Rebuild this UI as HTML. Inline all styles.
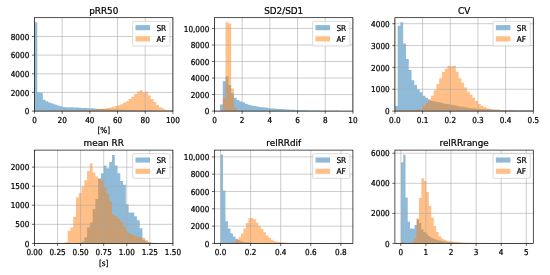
<!DOCTYPE html>
<html lang="en">
<head>
<meta charset="utf-8">
<title>HRV feature histograms: SR vs AF</title>
<style>
html,body{margin:0;padding:0;background:#fff;}
body{width:550px;height:275px;overflow:hidden;}
svg text{font-family:"DejaVu Sans", "Liberation Sans", sans-serif;fill:#000;stroke:#000;stroke-width:0.22px;}
</style>
</head>
<body>
<svg width="550" height="275" viewBox="0 0 550 275" style="display:block" font-family='&quot;DejaVu Sans&quot;, &quot;Liberation Sans&quot;, sans-serif'>
<rect x="0" y="0" width="550" height="275" fill="#ffffff"/>
<g>
<clipPath id="c0"><rect x="34.5" y="17.7" width="138.4" height="93.4"/></clipPath>
<path clip-path="url(#c0)" d="M34.5 111.1H37.27V22.24H34.5ZM37.27 111.1H40.04V92.54H37.27ZM40.04 111.1H42.8V92.82H40.04ZM42.8 111.1H45.57V99.68H42.8ZM45.57 111.1H48.34V101.33H45.57ZM48.34 111.1H51.11V102.47H48.34ZM51.11 111.1H53.88V103.49H51.11ZM53.88 111.1H56.64V104.5H53.88ZM56.64 111.1H59.41V105.39H56.64ZM59.41 111.1H62.18V106.16H59.41ZM62.18 111.1H64.95V106.9H62.18ZM64.95 111.1H67.72V107.14H64.95ZM67.72 111.1H70.48V107.25H67.72ZM70.48 111.1H73.25V107.35H70.48ZM73.25 111.1H76.02V107.46H73.25ZM76.02 111.1H78.79V107.56H76.02ZM78.79 111.1H81.56V107.72H78.79ZM81.56 111.1H84.32V107.88H81.56ZM84.32 111.1H87.09V108.03H84.32ZM87.09 111.1H89.86V108.17H87.09ZM89.86 111.1H92.63V108.3H89.86ZM92.63 111.1H95.4V108.5H92.63ZM95.4 111.1H98.16V108.68H95.4ZM98.16 111.1H100.93V108.88H98.16ZM100.93 111.1H103.7V109.06H100.93ZM103.7 111.1H106.47V109.23H103.7ZM106.47 111.1H109.24V109.34H106.47ZM109.24 111.1H112V109.44H109.24ZM112 111.1H114.77V109.53H112ZM114.77 111.1H117.54V109.62H114.77ZM117.54 111.1H120.31V109.7H117.54ZM120.31 111.1H123.08V109.77H120.31ZM123.08 111.1H125.84V109.84H123.08ZM125.84 111.1H128.61V109.9H125.84ZM128.61 111.1H131.38V109.96H128.61ZM131.38 111.1H134.15V110.02H131.38ZM134.15 111.1H136.92V110.07H134.15ZM136.92 111.1H139.68V110.13H136.92ZM139.68 111.1H142.45V110.18H139.68ZM142.45 111.1H145.22V110.23H142.45ZM145.22 111.1H147.99V110.28H145.22ZM147.99 111.1H150.76V110.33H147.99ZM150.76 111.1H153.52V110.37H150.76ZM153.52 111.1H156.29V110.41H153.52ZM156.29 111.1H159.06V110.45H156.29ZM159.06 111.1H161.83V110.49H159.06ZM161.83 111.1H164.6V110.52H161.83ZM164.6 111.1H167.36V110.56H164.6ZM167.36 111.1H170.13V110.59H167.36ZM170.13 111.1H172.9V109.98H170.13Z" fill="#1f77b4" fill-opacity="0.5"/>
<path clip-path="url(#c0)" d="M34.5 111.1H37.27V110.91H34.5ZM37.27 111.1H40.04V110.9H37.27ZM40.04 111.1H42.8V110.88H40.04ZM42.8 111.1H45.57V110.85H42.8ZM45.57 111.1H48.34V110.83H45.57ZM48.34 111.1H51.11V110.81H48.34ZM51.11 111.1H53.88V110.78H51.11ZM53.88 111.1H56.64V110.75H53.88ZM56.64 111.1H59.41V110.71H56.64ZM59.41 111.1H62.18V110.67H59.41ZM62.18 111.1H64.95V110.63H62.18ZM64.95 111.1H67.72V110.59H64.95ZM67.72 111.1H70.48V110.53H67.72ZM70.48 111.1H73.25V110.47H70.48ZM73.25 111.1H76.02V110.41H73.25ZM76.02 111.1H78.79V110.34H76.02ZM78.79 111.1H81.56V110.26H78.79ZM81.56 111.1H84.32V110.17H81.56ZM84.32 111.1H87.09V110.07H84.32ZM87.09 111.1H89.86V109.9H87.09ZM89.86 111.1H92.63V109.7H89.86ZM92.63 111.1H95.4V109.48H92.63ZM95.4 111.1H98.16V109.23H95.4ZM98.16 111.1H100.93V108.97H98.16ZM100.93 111.1H103.7V108.68H100.93ZM103.7 111.1H106.47V108.4H103.7ZM106.47 111.1H109.24V107.98H106.47ZM109.24 111.1H112V107.42H109.24ZM112 111.1H114.77V106.76H112ZM114.77 111.1H117.54V106.06H114.77ZM117.54 111.1H120.31V105.23H117.54ZM120.31 111.1H123.08V104.2H120.31ZM123.08 111.1H125.84V102.71H123.08ZM125.84 111.1H128.61V101.26H125.84ZM128.61 111.1H131.38V99.07H128.61ZM131.38 111.1H134.15V96.85H131.38ZM134.15 111.1H136.92V93.91H134.15ZM136.92 111.1H139.68V91.42H136.92ZM139.68 111.1H142.45V90.25H139.68ZM142.45 111.1H145.22V92.45H142.45ZM145.22 111.1H147.99V91.71H145.22ZM147.99 111.1H150.76V95.39H147.99ZM150.76 111.1H153.52V99.07H150.76ZM153.52 111.1H156.29V102H153.52ZM156.29 111.1H159.06V104.95H156.29ZM159.06 111.1H161.83V107.14H159.06ZM161.83 111.1H164.6V108.6H161.83ZM164.6 111.1H167.36V109.64H164.6ZM167.36 111.1H170.13V110.21H167.36ZM170.13 111.1H172.9V110.54H170.13Z" fill="#ff7f0e" fill-opacity="0.5"/>
<path d="M34.5 17.7V111.1M62.18 17.7V111.1M89.86 17.7V111.1M117.54 17.7V111.1M145.22 17.7V111.1M172.9 17.7V111.1M34.5 111.1H172.9M34.5 92.45H172.9M34.5 73.8H172.9M34.5 55.15H172.9M34.5 36.5H172.9" stroke="#a8a8a8" stroke-width="0.58" fill="none"/>
<path d="M34.5 111.1v2.6M62.18 111.1v2.6M89.86 111.1v2.6M117.54 111.1v2.6M145.22 111.1v2.6M172.9 111.1v2.6M34.5 111.1h-2.6M34.5 92.45h-2.6M34.5 73.8h-2.6M34.5 55.15h-2.6M34.5 36.5h-2.6" stroke="#000" stroke-width="0.6" fill="none"/>
<rect x="34.5" y="17.7" width="138.4" height="93.4" fill="none" stroke="#000" stroke-width="0.68"/>
<text transform="translate(34.5 122.8) scale(1 1.12)" font-size="7.3" text-anchor="middle">0</text>
<text transform="translate(62.18 122.8) scale(1 1.12)" font-size="7.3" text-anchor="middle">20</text>
<text transform="translate(89.86 122.8) scale(1 1.12)" font-size="7.3" text-anchor="middle">40</text>
<text transform="translate(117.54 122.8) scale(1 1.12)" font-size="7.3" text-anchor="middle">60</text>
<text transform="translate(145.22 122.8) scale(1 1.12)" font-size="7.3" text-anchor="middle">80</text>
<text transform="translate(172.9 122.8) scale(1 1.12)" font-size="7.3" text-anchor="middle">100</text>
<text transform="translate(29.3 114.2) scale(1 1.12)" font-size="7.3" text-anchor="end">0</text>
<text transform="translate(29.3 95.55) scale(1 1.12)" font-size="7.3" text-anchor="end">2000</text>
<text transform="translate(29.3 76.9) scale(1 1.12)" font-size="7.3" text-anchor="end">4000</text>
<text transform="translate(29.3 58.25) scale(1 1.12)" font-size="7.3" text-anchor="end">6000</text>
<text transform="translate(29.3 39.6) scale(1 1.12)" font-size="7.3" text-anchor="end">8000</text>
<text transform="translate(103.7 133.3) scale(1 1.12)" font-size="7.3" text-anchor="middle">[%]</text>
<text transform="translate(103.7 13.7) scale(1 1.04)" font-size="8.85" text-anchor="middle">pRR50</text>
<rect x="132.6" y="21.3" width="37.3" height="24.7" rx="1.4" ry="1.4" fill="#fff" fill-opacity="0.8" stroke="#c8c8c8" stroke-opacity="0.9" stroke-width="0.7"/>
<rect x="135.5" y="25.1" width="14.5" height="5.1" fill="#1f77b4" fill-opacity="0.5"/>
<text transform="translate(156.4 30.5) scale(1 1.08)" font-size="7.3999999999999995">SR</text>
<rect x="135.5" y="36.3" width="14.5" height="5.1" fill="#ff7f0e" fill-opacity="0.5"/>
<text transform="translate(156.4 41.7) scale(1 1.08)" font-size="7.3999999999999995">AF</text>
</g>
<g>
<clipPath id="c1"><rect x="214.5" y="17.7" width="138.4" height="93.4"/></clipPath>
<path clip-path="url(#c1)" d="M220.04 111.1H222.8V104.49H220.04ZM222.8 111.1H225.57V81.26H222.8ZM225.57 111.1H228.34V76.3H225.57ZM228.34 111.1H231.11V84.9H228.34ZM231.11 111.1H233.88V93.33H231.11ZM233.88 111.1H236.64V97.71H233.88ZM236.64 111.1H239.41V99.94H236.64ZM239.41 111.1H242.18V101.43H239.41ZM242.18 111.1H244.95V102.34H242.18ZM244.95 111.1H247.72V103.79H244.95ZM247.72 111.1H250.48V104.69H247.72ZM250.48 111.1H253.25V105.44H250.48ZM253.25 111.1H256.02V106.06H253.25ZM256.02 111.1H258.79V106.5H256.02ZM258.79 111.1H261.56V106.91H258.79ZM261.56 111.1H264.32V107.28H261.56ZM264.32 111.1H267.09V107.62H264.32ZM267.09 111.1H269.86V107.93H267.09ZM269.86 111.1H272.63V108.21H269.86ZM272.63 111.1H275.4V108.46H272.63ZM275.4 111.1H278.16V108.7H275.4ZM278.16 111.1H280.93V108.91H278.16ZM280.93 111.1H283.7V109.1H280.93ZM283.7 111.1H286.47V109.28H283.7ZM286.47 111.1H289.24V109.46H286.47ZM289.24 111.1H292V109.63H289.24ZM292 111.1H294.77V109.77H292ZM294.77 111.1H297.54V109.91H294.77ZM297.54 111.1H300.31V110.03H297.54ZM300.31 111.1H303.08V110.13H300.31ZM303.08 111.1H305.84V110.23H303.08ZM305.84 111.1H308.61V110.31H305.84ZM308.61 111.1H311.38V110.39H308.61ZM311.38 111.1H314.15V110.46H311.38ZM314.15 111.1H316.92V110.52H314.15ZM316.92 111.1H319.68V110.58H316.92ZM319.68 111.1H322.45V110.64H319.68ZM322.45 111.1H325.22V110.69H322.45ZM325.22 111.1H327.99V110.74H325.22ZM327.99 111.1H330.76V110.78H327.99ZM330.76 111.1H333.52V110.81H330.76ZM333.52 111.1H336.29V110.84H333.52ZM336.29 111.1H339.06V110.87H336.29ZM339.06 111.1H341.83V110.9H339.06ZM341.83 111.1H344.6V110.92H341.83ZM344.6 111.1H347.36V110.94H344.6ZM347.36 111.1H350.13V110.96H347.36ZM350.13 111.1H352.9V110.98H350.13Z" fill="#1f77b4" fill-opacity="0.5"/>
<path clip-path="url(#c1)" d="M222.8 111.1H225.57V97.71H222.8ZM225.57 111.1H228.34V22.14H225.57ZM228.34 111.1H231.11V23.54H228.34ZM231.11 111.1H233.88V88.56H231.11ZM233.88 111.1H236.64V107.79H233.88ZM236.64 111.1H239.41V110.6H236.64ZM239.41 111.1H242.18V110.98H239.41Z" fill="#ff7f0e" fill-opacity="0.5"/>
<path d="M214.5 17.7V111.1M242.18 17.7V111.1M269.86 17.7V111.1M297.54 17.7V111.1M325.22 17.7V111.1M352.9 17.7V111.1M214.5 111.1H352.9M214.5 94.57H352.9M214.5 78.04H352.9M214.5 61.51H352.9M214.5 44.98H352.9M214.5 28.45H352.9" stroke="#a8a8a8" stroke-width="0.58" fill="none"/>
<path d="M214.5 111.1v2.6M242.18 111.1v2.6M269.86 111.1v2.6M297.54 111.1v2.6M325.22 111.1v2.6M352.9 111.1v2.6M214.5 111.1h-2.6M214.5 94.57h-2.6M214.5 78.04h-2.6M214.5 61.51h-2.6M214.5 44.98h-2.6M214.5 28.45h-2.6" stroke="#000" stroke-width="0.6" fill="none"/>
<rect x="214.5" y="17.7" width="138.4" height="93.4" fill="none" stroke="#000" stroke-width="0.68"/>
<text transform="translate(214.5 122.8) scale(1 1.12)" font-size="7.3" text-anchor="middle">0</text>
<text transform="translate(242.18 122.8) scale(1 1.12)" font-size="7.3" text-anchor="middle">2</text>
<text transform="translate(269.86 122.8) scale(1 1.12)" font-size="7.3" text-anchor="middle">4</text>
<text transform="translate(297.54 122.8) scale(1 1.12)" font-size="7.3" text-anchor="middle">6</text>
<text transform="translate(325.22 122.8) scale(1 1.12)" font-size="7.3" text-anchor="middle">8</text>
<text transform="translate(352.9 122.8) scale(1 1.12)" font-size="7.3" text-anchor="middle">10</text>
<text transform="translate(209.3 114.2) scale(1 1.12)" font-size="7.3" text-anchor="end">0</text>
<text transform="translate(209.3 97.67) scale(1 1.12)" font-size="7.3" text-anchor="end">2000</text>
<text transform="translate(209.3 81.14) scale(1 1.12)" font-size="7.3" text-anchor="end">4000</text>
<text transform="translate(209.3 64.61) scale(1 1.12)" font-size="7.3" text-anchor="end">6000</text>
<text transform="translate(209.3 48.08) scale(1 1.12)" font-size="7.3" text-anchor="end">8000</text>
<text transform="translate(209.3 31.55) scale(1 1.12)" font-size="7.3" text-anchor="end">10,000</text>
<text transform="translate(283.7 13.7) scale(1 1.04)" font-size="8.85" text-anchor="middle">SD2/SD1</text>
<rect x="312.6" y="21.3" width="37.3" height="24.7" rx="1.4" ry="1.4" fill="#fff" fill-opacity="0.8" stroke="#c8c8c8" stroke-opacity="0.9" stroke-width="0.7"/>
<rect x="315.5" y="25.1" width="14.5" height="5.1" fill="#1f77b4" fill-opacity="0.5"/>
<text transform="translate(336.4 30.5) scale(1 1.08)" font-size="7.3999999999999995">SR</text>
<rect x="315.5" y="36.3" width="14.5" height="5.1" fill="#ff7f0e" fill-opacity="0.5"/>
<text transform="translate(336.4 41.7) scale(1 1.08)" font-size="7.3999999999999995">AF</text>
</g>
<g>
<clipPath id="c2"><rect x="394.9" y="17.7" width="138.4" height="93.4"/></clipPath>
<path clip-path="url(#c2)" d="M394.9 111.1H397.67V105.97H394.9ZM397.67 111.1H400.44V25.82H397.67ZM400.44 111.1H403.2V22.17H400.44ZM403.2 111.1H405.97V43.58H403.2ZM405.97 111.1H408.74V59.1H405.97ZM408.74 111.1H411.51V70.09H408.74ZM411.51 111.1H414.28V80.2H411.51ZM414.28 111.1H417.04V84.88H414.28ZM417.04 111.1H419.81V89.4H417.04ZM419.81 111.1H422.58V92.16H419.81ZM422.58 111.1H425.35V95.8H422.58ZM425.35 111.1H428.12V97.66H425.35ZM428.12 111.1H430.88V99.52H428.12ZM430.88 111.1H433.65V101.05H430.88ZM433.65 111.1H436.42V101.59H433.65ZM436.42 111.1H439.19V102.1H436.42ZM439.19 111.1H441.96V102.58H439.19ZM441.96 111.1H444.72V103.16H441.96ZM444.72 111.1H447.49V103.71H444.72ZM447.49 111.1H450.26V104.22H447.49ZM450.26 111.1H453.03V104.81H450.26ZM453.03 111.1H455.8V105.36H453.03ZM455.8 111.1H458.56V105.86H455.8ZM458.56 111.1H461.33V106.38H458.56ZM461.33 111.1H464.1V106.85H461.33ZM464.1 111.1H466.87V107.28H464.1ZM466.87 111.1H469.64V107.73H466.87ZM469.64 111.1H472.4V108.13H469.64ZM472.4 111.1H475.17V108.48H472.4ZM475.17 111.1H477.94V108.74H475.17ZM477.94 111.1H480.71V108.97H477.94ZM480.71 111.1H483.48V109.18H480.71ZM483.48 111.1H486.24V109.31H483.48ZM486.24 111.1H489.01V109.43H486.24ZM489.01 111.1H491.78V109.54H489.01ZM491.78 111.1H494.55V109.65H491.78ZM494.55 111.1H497.32V109.75H494.55ZM497.32 111.1H500.08V109.82H497.32ZM500.08 111.1H502.85V109.88H500.08ZM502.85 111.1H505.62V109.95H502.85ZM505.62 111.1H508.39V110.01H505.62ZM508.39 111.1H511.16V110.06H508.39ZM511.16 111.1H513.92V110.12H511.16ZM513.92 111.1H516.69V110.15H513.92ZM516.69 111.1H519.46V110.18H516.69ZM519.46 111.1H522.23V110.22H519.46ZM522.23 111.1H525V110.25H522.23ZM525 111.1H527.76V110.28H525ZM527.76 111.1H530.53V110.31H527.76ZM530.53 111.1H533.3V110.34H530.53Z" fill="#1f77b4" fill-opacity="0.5"/>
<path clip-path="url(#c2)" d="M394.9 111.1H397.67V110.55H394.9ZM397.67 111.1H400.44V110.34H397.67ZM400.44 111.1H403.2V110.23H400.44ZM403.2 111.1H405.97V110.12H403.2ZM405.97 111.1H408.74V110.01H405.97ZM408.74 111.1H411.51V109.96H408.74ZM411.51 111.1H414.28V109.9H411.51ZM414.28 111.1H417.04V109.79H414.28ZM417.04 111.1H419.81V109.61H417.04ZM419.81 111.1H422.58V109.24H419.81ZM422.58 111.1H425.35V105.97H422.58ZM425.35 111.1H428.12V103.23H425.35ZM428.12 111.1H430.88V100.39H428.12ZM430.88 111.1H433.65V95.8H430.88ZM433.65 111.1H436.42V90.34H433.65ZM436.42 111.1H439.19V83.9H436.42ZM439.19 111.1H441.96V78.32H439.19ZM441.96 111.1H444.72V71.99H441.96ZM444.72 111.1H447.49V68.8H444.72ZM447.49 111.1H450.26V65.87H447.49ZM450.26 111.1H453.03V66.42H450.26ZM453.03 111.1H455.8V65.87H453.03ZM455.8 111.1H458.56V71.77H455.8ZM458.56 111.1H461.33V78.32H458.56ZM461.33 111.1H464.1V82.69H461.33ZM464.1 111.1H466.87V87.5H464.1ZM466.87 111.1H469.64V91.43H466.87ZM469.64 111.1H472.4V94.49H469.64ZM472.4 111.1H475.17V97.77H472.4ZM475.17 111.1H477.94V101.05H475.17ZM477.94 111.1H480.71V103.89H477.94ZM480.71 111.1H483.48V105.64H480.71ZM483.48 111.1H486.24V107.17H483.48ZM486.24 111.1H489.01V108.26H486.24ZM489.01 111.1H491.78V109.02H489.01ZM491.78 111.1H494.55V109.46H491.78ZM494.55 111.1H497.32V109.67H494.55ZM497.32 111.1H500.08V109.85H497.32ZM500.08 111.1H502.85V110.01H500.08ZM502.85 111.1H505.62V110.12H502.85ZM505.62 111.1H508.39V110.23H505.62ZM508.39 111.1H511.16V110.32H508.39ZM511.16 111.1H513.92V110.4H511.16ZM513.92 111.1H516.69V110.46H513.92ZM516.69 111.1H519.46V110.52H516.69ZM519.46 111.1H522.23V110.57H519.46ZM522.23 111.1H525V110.62H522.23ZM525 111.1H527.76V110.67H525ZM527.76 111.1H530.53V110.71H527.76ZM530.53 111.1H533.3V110.75H530.53Z" fill="#ff7f0e" fill-opacity="0.5"/>
<path d="M394.9 17.7V111.1M422.58 17.7V111.1M450.26 17.7V111.1M477.94 17.7V111.1M505.62 17.7V111.1M533.3 17.7V111.1M394.9 111.1H533.3M394.9 89.25H533.3M394.9 67.4H533.3M394.9 45.55H533.3M394.9 23.7H533.3" stroke="#a8a8a8" stroke-width="0.58" fill="none"/>
<path d="M394.9 111.1v2.6M422.58 111.1v2.6M450.26 111.1v2.6M477.94 111.1v2.6M505.62 111.1v2.6M533.3 111.1v2.6M394.9 111.1h-2.6M394.9 89.25h-2.6M394.9 67.4h-2.6M394.9 45.55h-2.6M394.9 23.7h-2.6" stroke="#000" stroke-width="0.6" fill="none"/>
<rect x="394.9" y="17.7" width="138.4" height="93.4" fill="none" stroke="#000" stroke-width="0.68"/>
<text transform="translate(394.9 122.8) scale(1 1.12)" font-size="7.3" text-anchor="middle">0.0</text>
<text transform="translate(422.58 122.8) scale(1 1.12)" font-size="7.3" text-anchor="middle">0.1</text>
<text transform="translate(450.26 122.8) scale(1 1.12)" font-size="7.3" text-anchor="middle">0.2</text>
<text transform="translate(477.94 122.8) scale(1 1.12)" font-size="7.3" text-anchor="middle">0.3</text>
<text transform="translate(505.62 122.8) scale(1 1.12)" font-size="7.3" text-anchor="middle">0.4</text>
<text transform="translate(533.3 122.8) scale(1 1.12)" font-size="7.3" text-anchor="middle">0.5</text>
<text transform="translate(389.7 114.2) scale(1 1.12)" font-size="7.3" text-anchor="end">0</text>
<text transform="translate(389.7 92.35) scale(1 1.12)" font-size="7.3" text-anchor="end">1000</text>
<text transform="translate(389.7 70.5) scale(1 1.12)" font-size="7.3" text-anchor="end">2000</text>
<text transform="translate(389.7 48.65) scale(1 1.12)" font-size="7.3" text-anchor="end">3000</text>
<text transform="translate(389.7 26.8) scale(1 1.12)" font-size="7.3" text-anchor="end">4000</text>
<text transform="translate(464.1 13.7) scale(1 1.04)" font-size="8.85" text-anchor="middle">CV</text>
<rect x="493" y="21.3" width="37.3" height="24.7" rx="1.4" ry="1.4" fill="#fff" fill-opacity="0.8" stroke="#c8c8c8" stroke-opacity="0.9" stroke-width="0.7"/>
<rect x="495.9" y="25.1" width="14.5" height="5.1" fill="#1f77b4" fill-opacity="0.5"/>
<text transform="translate(516.8 30.5) scale(1 1.08)" font-size="7.3999999999999995">SR</text>
<rect x="495.9" y="36.3" width="14.5" height="5.1" fill="#ff7f0e" fill-opacity="0.5"/>
<text transform="translate(516.8 41.7) scale(1 1.08)" font-size="7.3999999999999995">AF</text>
</g>
<g>
<clipPath id="c3"><rect x="34.5" y="150.1" width="138.4" height="93.3"/></clipPath>
<path clip-path="url(#c3)" d="M76.02 243.4H78.79V243.09H76.02ZM78.79 243.4H81.56V242.64H78.79ZM81.56 243.4H84.32V241.49H81.56ZM84.32 243.4H87.09V237.41H84.32ZM87.09 243.4H89.86V227.61H87.09ZM89.86 243.4H92.63V222.5H89.86ZM92.63 243.4H95.4V208.88H92.63ZM95.4 243.4H98.16V198.89H95.4ZM98.16 243.4H100.93V178.56H98.16ZM100.93 243.4H103.7V173.3H100.93ZM103.7 243.4H106.47V165.48H103.7ZM106.47 243.4H109.24V168.19H106.47ZM109.24 243.4H112V161.97H109.24ZM112 243.4H114.77V155.11H112ZM114.77 243.4H117.54V165.48H114.77ZM117.54 243.4H120.31V173.3H117.54ZM120.31 243.4H123.08V181.12H120.31ZM123.08 243.4H125.84V184.74H123.08ZM125.84 243.4H128.61V204.19H125.84ZM128.61 243.4H131.38V212.39H128.61ZM131.38 243.4H134.15V212.39H131.38ZM134.15 243.4H136.92V216.32H134.15ZM136.92 243.4H139.68V220.17H136.92ZM139.68 243.4H142.45V228.33H139.68ZM142.45 243.4H145.22V239.78H142.45ZM145.22 243.4H147.99V241.49H145.22ZM147.99 243.4H150.76V242.45H147.99ZM150.76 243.4H153.52V242.94H150.76ZM153.52 243.4H156.29V243.17H153.52ZM156.29 243.4H159.06V243.29H156.29Z" fill="#1f77b4" fill-opacity="0.5"/>
<path clip-path="url(#c3)" d="M62.18 243.4H64.95V243.09H62.18ZM64.95 243.4H67.72V242.14H64.95ZM67.72 243.4H70.48V230.7H67.72ZM70.48 243.4H73.25V227.61H70.48ZM73.25 243.4H76.02V216.7H73.25ZM76.02 243.4H78.79V197.44H76.02ZM78.79 243.4H81.56V192.9H78.79ZM81.56 243.4H84.32V186.57H81.56ZM84.32 243.4H87.09V180.2H84.32ZM87.09 243.4H89.86V170.93H87.09ZM89.86 243.4H92.63V163.31H89.86ZM92.63 243.4H95.4V172.57H92.63ZM95.4 243.4H98.16V176.39H95.4ZM98.16 243.4H100.93V179.1H98.16ZM100.93 243.4H103.7V180.85H100.93ZM103.7 243.4H106.47V187.52H103.7ZM106.47 243.4H109.24V193.82H106.47ZM109.24 243.4H112V201.45H109.24ZM112 243.4H114.77V214.8H112ZM114.77 243.4H117.54V216.13H114.77ZM117.54 243.4H120.31V218.99H117.54ZM120.31 243.4H123.08V221.81H120.31ZM123.08 243.4H125.84V226.16H123.08ZM125.84 243.4H128.61V231.61H125.84ZM128.61 243.4H131.38V233.25H128.61ZM131.38 243.4H134.15V234.89H131.38ZM134.15 243.4H136.92V235.96H134.15ZM136.92 243.4H139.68V236.84H136.92ZM139.68 243.4H142.45V237.6H139.68ZM142.45 243.4H145.22V237.68H142.45ZM145.22 243.4H147.99V240.35H145.22ZM147.99 243.4H150.76V241.99H147.99ZM150.76 243.4H153.52V242.64H150.76ZM153.52 243.4H156.29V242.94H153.52ZM156.29 243.4H159.06V243.13H156.29ZM159.06 243.4H161.83V243.25H159.06Z" fill="#ff7f0e" fill-opacity="0.5"/>
<path d="M34.5 150.1V243.4M57.57 150.1V243.4M80.63 150.1V243.4M103.7 150.1V243.4M126.77 150.1V243.4M149.83 150.1V243.4M172.9 150.1V243.4M34.5 243.4H172.9M34.5 224.33H172.9M34.5 205.26H172.9M34.5 186.19H172.9M34.5 167.12H172.9" stroke="#a8a8a8" stroke-width="0.58" fill="none"/>
<path d="M34.5 243.4v2.6M57.57 243.4v2.6M80.63 243.4v2.6M103.7 243.4v2.6M126.77 243.4v2.6M149.83 243.4v2.6M172.9 243.4v2.6M34.5 243.4h-2.6M34.5 224.33h-2.6M34.5 205.26h-2.6M34.5 186.19h-2.6M34.5 167.12h-2.6" stroke="#000" stroke-width="0.6" fill="none"/>
<rect x="34.5" y="150.1" width="138.4" height="93.3" fill="none" stroke="#000" stroke-width="0.68"/>
<text transform="translate(34.5 255.1) scale(1 1.12)" font-size="7.3" text-anchor="middle">0.00</text>
<text transform="translate(57.57 255.1) scale(1 1.12)" font-size="7.3" text-anchor="middle">0.25</text>
<text transform="translate(80.63 255.1) scale(1 1.12)" font-size="7.3" text-anchor="middle">0.50</text>
<text transform="translate(103.7 255.1) scale(1 1.12)" font-size="7.3" text-anchor="middle">0.75</text>
<text transform="translate(126.77 255.1) scale(1 1.12)" font-size="7.3" text-anchor="middle">1.00</text>
<text transform="translate(149.83 255.1) scale(1 1.12)" font-size="7.3" text-anchor="middle">1.25</text>
<text transform="translate(172.9 255.1) scale(1 1.12)" font-size="7.3" text-anchor="middle">1.50</text>
<text transform="translate(29.3 246.5) scale(1 1.12)" font-size="7.3" text-anchor="end">0</text>
<text transform="translate(29.3 227.43) scale(1 1.12)" font-size="7.3" text-anchor="end">500</text>
<text transform="translate(29.3 208.36) scale(1 1.12)" font-size="7.3" text-anchor="end">1000</text>
<text transform="translate(29.3 189.29) scale(1 1.12)" font-size="7.3" text-anchor="end">1500</text>
<text transform="translate(29.3 170.22) scale(1 1.12)" font-size="7.3" text-anchor="end">2000</text>
<text transform="translate(103.7 265.6) scale(1 1.12)" font-size="7.3" text-anchor="middle">[s]</text>
<text transform="translate(103.7 146.1) scale(1 1.04)" font-size="8.85" text-anchor="middle">mean RR</text>
<rect x="132.6" y="153.7" width="37.3" height="24.7" rx="1.4" ry="1.4" fill="#fff" fill-opacity="0.8" stroke="#c8c8c8" stroke-opacity="0.9" stroke-width="0.7"/>
<rect x="135.5" y="157.5" width="14.5" height="5.1" fill="#1f77b4" fill-opacity="0.5"/>
<text transform="translate(156.4 162.9) scale(1 1.08)" font-size="7.3999999999999995">SR</text>
<rect x="135.5" y="168.7" width="14.5" height="5.1" fill="#ff7f0e" fill-opacity="0.5"/>
<text transform="translate(156.4 174.1) scale(1 1.08)" font-size="7.3999999999999995">AF</text>
</g>
<g>
<clipPath id="c4"><rect x="214.5" y="150.1" width="138.4" height="93.3"/></clipPath>
<path clip-path="url(#c4)" d="M220.5 243.4H222.98V154.52H220.5ZM222.98 243.4H225.46V190.46H222.98ZM225.46 243.4H227.94V221.2H225.46ZM227.94 243.4H230.42V228.6H227.94ZM230.42 243.4H232.9V233.23H230.42ZM232.9 243.4H235.38V236.57H232.9ZM235.38 243.4H237.86V238.77H235.38ZM237.86 243.4H240.34V240.29H237.86ZM240.34 243.4H242.82V241.24H240.34ZM242.82 243.4H245.3V241.89H242.82ZM245.3 243.4H247.78V242.32H245.3ZM247.78 243.4H250.26V242.62H247.78ZM250.26 243.4H252.74V242.84H250.26ZM252.74 243.4H255.22V242.98H252.74ZM255.22 243.4H257.7V243.09H255.22ZM257.7 243.4H260.18V243.17H257.7ZM260.18 243.4H262.66V243.23H260.18ZM262.66 243.4H265.14V243.27H262.66ZM265.14 243.4H267.62V243.3H265.14ZM267.62 243.4H270.1V243.33H267.62ZM270.1 243.4H272.58V243.35H270.1ZM272.58 243.4H275.06V243.36H272.58ZM275.06 243.4H277.54V243.37H275.06ZM277.54 243.4H280.02V243.37H277.54ZM280.02 243.4H282.5V243.38H280.02Z" fill="#1f77b4" fill-opacity="0.5"/>
<path clip-path="url(#c4)" d="M220.9 243.4H223.4V243.23H220.9ZM223.4 243.4H225.9V243.14H223.4ZM225.9 243.4H228.4V243.01H225.9ZM228.4 243.4H230.9V242.79H228.4ZM230.9 243.4H233.4V242.53H230.9ZM233.4 243.4H235.9V242.02H233.4ZM235.9 243.4H238.4V240.11H235.9ZM238.4 243.4H240.9V237.17H238.4ZM240.9 243.4H243.4V233.58H240.9ZM243.4 243.4H245.9V228.45H243.4ZM245.9 243.4H248.4V223H245.9ZM248.4 243.4H250.9V218.31H248.4ZM250.9 243.4H253.4V217.88H250.9ZM253.4 243.4H255.9V219.18H253.4ZM255.9 243.4H258.4V222.47H255.9ZM258.4 243.4H260.9V226.27H258.4ZM260.9 243.4H263.4V229H260.9ZM263.4 243.4H265.9V232.28H263.4ZM265.9 243.4H268.4V235.44H265.9ZM268.4 243.4H270.9V237.86H268.4ZM270.9 243.4H273.4V239.68H270.9ZM273.4 243.4H275.9V240.89H273.4ZM275.9 243.4H278.4V241.67H275.9ZM278.4 243.4H280.9V242.1H278.4ZM280.9 243.4H283.4V242.41H280.9ZM283.4 243.4H285.9V242.62H283.4ZM285.9 243.4H288.4V242.78H285.9ZM288.4 243.4H290.9V242.9H288.4ZM290.9 243.4H293.4V242.99H290.9ZM293.4 243.4H295.9V243.07H293.4ZM295.9 243.4H298.4V243.13H295.9ZM298.4 243.4H300.9V243.18H298.4ZM300.9 243.4H303.4V243.23H300.9ZM303.4 243.4H305.9V243.26H303.4ZM305.9 243.4H308.4V243.29H305.9ZM308.4 243.4H310.9V243.31H308.4ZM310.9 243.4H313.4V243.33H310.9ZM313.4 243.4H315.9V243.35H313.4ZM315.9 243.4H318.4V243.36H315.9ZM318.4 243.4H320.9V243.37H318.4ZM320.9 243.4H323.4V243.37H320.9ZM323.4 243.4H325.9V243.38H323.4ZM325.9 243.4H328.4V243.38H325.9ZM328.4 243.4H330.9V243.39H328.4ZM330.9 243.4H333.4V243.39H330.9ZM333.4 243.4H335.9V243.39H333.4ZM335.9 243.4H338.4V243.39H335.9ZM338.4 243.4H340.9V243.39H338.4ZM340.9 243.4H343.4V243.39H340.9ZM343.4 243.4H345.9V243.39H343.4Z" fill="#ff7f0e" fill-opacity="0.5"/>
<path d="M220.5 150.1V243.4M250.6 150.1V243.4M280.7 150.1V243.4M310.8 150.1V243.4M340.9 150.1V243.4M214.5 243.4H352.9M214.5 226.1H352.9M214.5 208.8H352.9M214.5 191.5H352.9M214.5 174.2H352.9M214.5 156.9H352.9" stroke="#a8a8a8" stroke-width="0.58" fill="none"/>
<path d="M220.5 243.4v2.6M250.6 243.4v2.6M280.7 243.4v2.6M310.8 243.4v2.6M340.9 243.4v2.6M214.5 243.4h-2.6M214.5 226.1h-2.6M214.5 208.8h-2.6M214.5 191.5h-2.6M214.5 174.2h-2.6M214.5 156.9h-2.6" stroke="#000" stroke-width="0.6" fill="none"/>
<rect x="214.5" y="150.1" width="138.4" height="93.3" fill="none" stroke="#000" stroke-width="0.68"/>
<text transform="translate(220.5 255.1) scale(1 1.12)" font-size="7.3" text-anchor="middle">0.0</text>
<text transform="translate(250.6 255.1) scale(1 1.12)" font-size="7.3" text-anchor="middle">0.2</text>
<text transform="translate(280.7 255.1) scale(1 1.12)" font-size="7.3" text-anchor="middle">0.4</text>
<text transform="translate(310.8 255.1) scale(1 1.12)" font-size="7.3" text-anchor="middle">0.6</text>
<text transform="translate(340.9 255.1) scale(1 1.12)" font-size="7.3" text-anchor="middle">0.8</text>
<text transform="translate(209.3 246.5) scale(1 1.12)" font-size="7.3" text-anchor="end">0</text>
<text transform="translate(209.3 229.2) scale(1 1.12)" font-size="7.3" text-anchor="end">2000</text>
<text transform="translate(209.3 211.9) scale(1 1.12)" font-size="7.3" text-anchor="end">4000</text>
<text transform="translate(209.3 194.6) scale(1 1.12)" font-size="7.3" text-anchor="end">6000</text>
<text transform="translate(209.3 177.3) scale(1 1.12)" font-size="7.3" text-anchor="end">8000</text>
<text transform="translate(209.3 160) scale(1 1.12)" font-size="7.3" text-anchor="end">10,000</text>
<text transform="translate(283.7 146.1) scale(1 1.04)" font-size="8.85" text-anchor="middle">relRRdif</text>
<rect x="312.6" y="153.7" width="37.3" height="24.7" rx="1.4" ry="1.4" fill="#fff" fill-opacity="0.8" stroke="#c8c8c8" stroke-opacity="0.9" stroke-width="0.7"/>
<rect x="315.5" y="157.5" width="14.5" height="5.1" fill="#1f77b4" fill-opacity="0.5"/>
<text transform="translate(336.4 162.9) scale(1 1.08)" font-size="7.3999999999999995">SR</text>
<rect x="315.5" y="168.7" width="14.5" height="5.1" fill="#ff7f0e" fill-opacity="0.5"/>
<text transform="translate(336.4 174.1) scale(1 1.08)" font-size="7.3999999999999995">AF</text>
</g>
<g>
<clipPath id="c5"><rect x="394.9" y="150.1" width="138.4" height="93.3"/></clipPath>
<path clip-path="url(#c5)" d="M401 243.4H403.25V162.3H401ZM403.25 243.4H405.5V154.66H403.25ZM405.5 243.4H407.75V197.41H405.5ZM407.75 243.4H410V221.69H407.75ZM410 243.4H412.25V228.53H410ZM412.25 243.4H414.5V228.83H412.25ZM414.5 243.4H416.75V225.01H414.5ZM416.75 243.4H419V219.28H416.75ZM419 243.4H421.25V223.12H419ZM421.25 243.4H423.5V229.28H421.25ZM423.5 243.4H425.75V232H423.5ZM425.75 243.4H428V233.78H425.75ZM428 243.4H430.25V235.89H428ZM430.25 243.4H432.5V237.39H430.25ZM432.5 243.4H434.75V238.59H432.5ZM434.75 243.4H437V239.57H434.75ZM437 243.4H439.25V240.24H437ZM439.25 243.4H441.5V240.77H439.25ZM441.5 243.4H443.75V241.22H441.5ZM443.75 243.4H446V241.6H443.75ZM446 243.4H448.25V241.9H446ZM448.25 243.4H450.5V242.12H448.25ZM450.5 243.4H452.75V242.32H450.5ZM452.75 243.4H455V242.5H452.75ZM455 243.4H457.25V242.65H455ZM457.25 243.4H459.5V242.77H457.25ZM459.5 243.4H461.75V242.87H459.5ZM461.75 243.4H464V242.96H461.75ZM464 243.4H466.25V243.04H464ZM466.25 243.4H468.5V243.1H466.25ZM468.5 243.4H470.75V243.16H468.5ZM470.75 243.4H473V243.2H470.75ZM473 243.4H475.25V243.25H473ZM475.25 243.4H477.5V243.28H475.25ZM477.5 243.4H479.75V243.31H477.5ZM479.75 243.4H482V243.32H479.75ZM482 243.4H484.25V243.34H482ZM484.25 243.4H486.5V243.35H484.25ZM486.5 243.4H488.75V243.37H486.5ZM488.75 243.4H491V243.37H488.75ZM491 243.4H493.25V243.38H491ZM493.25 243.4H495.5V243.38H493.25ZM495.5 243.4H497.75V243.38H495.5ZM497.75 243.4H500V243.38H497.75ZM500 243.4H502.25V243.38H500Z" fill="#1f77b4" fill-opacity="0.5"/>
<path clip-path="url(#c5)" d="M401.75 243.4H404.21V241.6H401.75ZM404.21 243.4H406.67V243.25H404.21ZM406.67 243.4H409.13V243.17H406.67ZM409.13 243.4H411.59V242.95H409.13ZM411.59 243.4H414.05V242.12H411.59ZM414.05 243.4H416.51V237.93H414.05ZM416.51 243.4H418.97V218.76H416.51ZM418.97 243.4H421.43V197.9H418.97ZM421.43 243.4H423.89V178.3H421.43ZM423.89 243.4H426.35V181H423.89ZM426.35 243.4H428.81V191.91H426.35ZM428.81 243.4H431.27V206H428.81ZM431.27 243.4H433.73V217.41H431.27ZM433.73 243.4H436.19V226.12H433.73ZM436.19 243.4H438.65V232H436.19ZM438.65 243.4H441.11V236.26H438.65ZM441.11 243.4H443.57V238.44H441.11ZM443.57 243.4H446.03V239.87H443.57ZM446.03 243.4H448.49V240.85H446.03ZM448.49 243.4H450.95V241.3H448.49ZM450.95 243.4H453.41V241.6H450.95ZM453.41 243.4H455.87V241.84H453.41ZM455.87 243.4H458.33V242.05H455.87ZM458.33 243.4H460.79V242.23H458.33ZM460.79 243.4H463.25V242.38H460.79ZM463.25 243.4H465.71V242.51H463.25ZM465.71 243.4H468.17V242.63H465.71ZM468.17 243.4H470.63V242.74H468.17ZM470.63 243.4H473.09V242.83H470.63ZM473.09 243.4H475.55V242.9H473.09ZM475.55 243.4H478.01V242.98H475.55ZM478.01 243.4H480.47V243.04H478.01ZM480.47 243.4H482.93V243.1H480.47ZM482.93 243.4H485.39V243.14H482.93ZM485.39 243.4H487.85V243.19H485.39ZM487.85 243.4H490.31V243.22H487.85ZM490.31 243.4H492.77V243.25H490.31ZM492.77 243.4H495.23V243.28H492.77ZM495.23 243.4H497.69V243.29H495.23ZM497.69 243.4H500.15V243.31H497.69ZM500.15 243.4H502.61V243.32H500.15ZM502.61 243.4H505.07V243.34H502.61ZM505.07 243.4H507.53V243.35H505.07ZM507.53 243.4H509.99V243.35H507.53ZM509.99 243.4H512.45V243.37H509.99ZM512.45 243.4H514.91V243.37H512.45ZM514.91 243.4H517.37V243.37H514.91ZM517.37 243.4H519.83V243.38H517.37ZM519.83 243.4H522.29V243.38H519.83ZM522.29 243.4H524.75V243.38H522.29Z" fill="#ff7f0e" fill-opacity="0.5"/>
<path d="M400.8 150.1V243.4M425.9 150.1V243.4M451 150.1V243.4M476.1 150.1V243.4M501.2 150.1V243.4M526.3 150.1V243.4M394.9 243.4H533.3M394.9 213.35H533.3M394.9 183.3H533.3M394.9 153.25H533.3" stroke="#a8a8a8" stroke-width="0.58" fill="none"/>
<path d="M400.8 243.4v2.6M425.9 243.4v2.6M451 243.4v2.6M476.1 243.4v2.6M501.2 243.4v2.6M526.3 243.4v2.6M394.9 243.4h-2.6M394.9 213.35h-2.6M394.9 183.3h-2.6M394.9 153.25h-2.6" stroke="#000" stroke-width="0.6" fill="none"/>
<rect x="394.9" y="150.1" width="138.4" height="93.3" fill="none" stroke="#000" stroke-width="0.68"/>
<text transform="translate(400.8 255.1) scale(1 1.12)" font-size="7.3" text-anchor="middle">0</text>
<text transform="translate(425.9 255.1) scale(1 1.12)" font-size="7.3" text-anchor="middle">1</text>
<text transform="translate(451 255.1) scale(1 1.12)" font-size="7.3" text-anchor="middle">2</text>
<text transform="translate(476.1 255.1) scale(1 1.12)" font-size="7.3" text-anchor="middle">3</text>
<text transform="translate(501.2 255.1) scale(1 1.12)" font-size="7.3" text-anchor="middle">4</text>
<text transform="translate(526.3 255.1) scale(1 1.12)" font-size="7.3" text-anchor="middle">5</text>
<text transform="translate(389.7 246.5) scale(1 1.12)" font-size="7.3" text-anchor="end">0</text>
<text transform="translate(389.7 216.45) scale(1 1.12)" font-size="7.3" text-anchor="end">2000</text>
<text transform="translate(389.7 186.4) scale(1 1.12)" font-size="7.3" text-anchor="end">4000</text>
<text transform="translate(389.7 156.35) scale(1 1.12)" font-size="7.3" text-anchor="end">6000</text>
<text transform="translate(464.1 146.1) scale(1 1.04)" font-size="8.85" text-anchor="middle">relRRrange</text>
<rect x="493" y="153.7" width="37.3" height="24.7" rx="1.4" ry="1.4" fill="#fff" fill-opacity="0.8" stroke="#c8c8c8" stroke-opacity="0.9" stroke-width="0.7"/>
<rect x="495.9" y="157.5" width="14.5" height="5.1" fill="#1f77b4" fill-opacity="0.5"/>
<text transform="translate(516.8 162.9) scale(1 1.08)" font-size="7.3999999999999995">SR</text>
<rect x="495.9" y="168.7" width="14.5" height="5.1" fill="#ff7f0e" fill-opacity="0.5"/>
<text transform="translate(516.8 174.1) scale(1 1.08)" font-size="7.3999999999999995">AF</text>
</g>
</svg>
</body>
</html>
